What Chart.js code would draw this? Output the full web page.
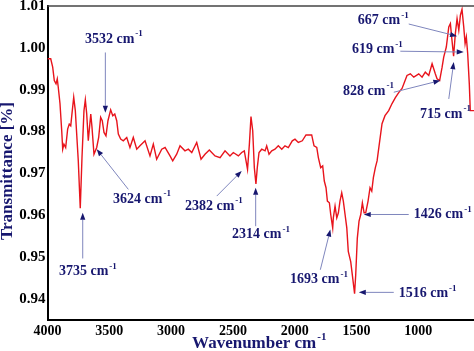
<!DOCTYPE html>
<html>
<head>
<meta charset="utf-8">
<script src="https://cdn.jsdelivr.net/npm/chart.js@4.4.1/dist/chart.umd.min.js"></script>
<style>
  html, body { margin: 0; padding: 0; background: #fff; }
  #wrap { width: 474px; height: 351px; }
</style>
</head>
<body>
<div id="wrap"><canvas id="canvas"></canvas></div>
<script>
// spectrum
var wavenumbers = [4000, 3974, 3958, 3945, 3931, 3921, 3913, 3899, 3885, 3877, 3867, 3853, 3837, 3824, 3812, 3802, 3788, 3775, 3764, 3751,
  3735, 3721, 3705, 3694, 3683, 3670, 3650, 3640, 3624, 3602, 3586, 3570, 3557, 3543, 3527, 3511, 3489, 3472, 3456, 3440,
  3427, 3408, 3387, 3359, 3333, 3306, 3278, 3252, 3211, 3171, 3144, 3117, 3076, 3049, 3009, 2987, 2955, 2928, 2888, 2861,
  2833, 2793, 2758, 2726, 2691, 2645, 2604, 2564, 2524, 2497, 2456, 2429, 2408, 2394, 2382, 2367, 2354, 2340, 2327, 2314,
  2303, 2289, 2267, 2240, 2227, 2208, 2186, 2160, 2133, 2105, 2079, 2052, 2020, 1998, 1971, 1939, 1909, 1863, 1844, 1822,
  1809, 1790, 1774, 1761, 1747, 1736, 1720, 1709, 1693, 1688, 1674, 1660, 1647, 1634, 1620, 1607, 1593, 1579, 1567, 1547,
  1534, 1516, 1507, 1494, 1480, 1466, 1453, 1439, 1426, 1407, 1391, 1377, 1364, 1348, 1334, 1318, 1294, 1270, 1240, 1213,
  1186, 1159, 1132, 1092, 1065, 1037, 997, 970, 944, 916, 889, 863, 849, 828, 808, 795, 774, 754, 741, 728,
  715, 701, 687, 673, 660, 647, 633, 622, 612, 601, 588, 580, 550];
var transmittance = [0.9974, 0.9974, 0.9954, 0.9922, 0.9914, 0.9926, 0.9906, 0.9867, 0.9802, 0.9758, 0.9770, 0.9762, 0.9806, 0.9818, 0.9814, 0.9843, 0.9882, 0.9850, 0.9795, 0.9730,
  0.9617, 0.9738, 0.9850, 0.9876, 0.9843, 0.9778, 0.9842, 0.9810, 0.9746, 0.9762, 0.9786, 0.9834, 0.9826, 0.9798, 0.9790, 0.9826, 0.9852, 0.9838, 0.9842, 0.9826,
  0.9794, 0.9782, 0.9778, 0.9786, 0.9762, 0.9786, 0.9758, 0.9766, 0.9778, 0.9742, 0.9770, 0.9734, 0.9758, 0.9762, 0.9742, 0.9730, 0.9746, 0.9766, 0.9754, 0.9758,
  0.9750, 0.9774, 0.9734, 0.9746, 0.9756, 0.9742, 0.9738, 0.9754, 0.9742, 0.9750, 0.9742, 0.9750, 0.9754, 0.9730, 0.9710, 0.9770, 0.9836, 0.9802, 0.9714, 0.9675,
  0.9714, 0.9750, 0.9758, 0.9754, 0.9766, 0.9746, 0.9754, 0.9758, 0.9766, 0.9758, 0.9766, 0.9762, 0.9778, 0.9782, 0.9774, 0.9778, 0.9792, 0.9792, 0.9766, 0.9762,
  0.9738, 0.9714, 0.9718, 0.9682, 0.9666, 0.9634, 0.9630, 0.9602, 0.9570, 0.9594, 0.9622, 0.9594, 0.9606, 0.9634, 0.9654, 0.9634, 0.9602, 0.9570, 0.9514, 0.9489,
  0.9457, 0.9413, 0.9457, 0.9545, 0.9586, 0.9602, 0.9630, 0.9606, 0.9606, 0.9634, 0.9666, 0.9658, 0.9690, 0.9714, 0.9730, 0.9766, 0.9819, 0.9838, 0.9850, 0.9867,
  0.9881, 0.9893, 0.9903, 0.9934, 0.9938, 0.9930, 0.9938, 0.9930, 0.9942, 0.9934, 0.9962, 0.9938, 0.9926, 0.9922, 0.9954, 0.9978, 1.0002, 1.0050, 1.0058, 1.0018,
  0.9980, 1.0034, 1.0070, 1.0042, 1.0078, 1.0092, 1.0050, 1.0010, 1.0026, 0.9986, 0.9914, 0.9850, 0.9850];

var xTicks = [4000, 3500, 3000, 2500, 2000, 1500, 1000];
var yTicks = [0.94, 0.95, 0.96, 0.97, 0.98, 0.99, 1.00, 1.01];

// marked peaks (cm-1)
var peaks = [3532, 3624, 3735, 2382, 2314, 1693, 1516, 1426, 828, 715, 619, 667];

// where each label and arrow sits, in axis units: [textX, textY, tailX, tailY, tipX, tipY]
var peakLayout = [
  [3697, 1.0021, 3532, 0.9989, 3532, 0.9845],
  [3470, 0.9638, 3346, 0.9662, 3602, 0.9758],
  [3907, 0.9465, 3715, 0.9497, 3715, 0.9606],
  [2888, 0.9622, 2631, 0.9646, 2429, 0.9706],
  [2507, 0.9554, 2316, 0.9574, 2316, 0.9666],
  [2038, 0.9446, 1793, 0.9470, 1712, 0.9566],
  [1159, 0.9413, 1199, 0.9416, 1482, 0.9416],
  [1037, 0.9602, 1078, 0.9602, 1442, 0.9602],
  [1609, 0.9896, 1199, 0.9894, 822, 0.9922],
  [986, 0.9842, 754, 0.9878, 714, 0.9966],
  [1537, 0.9996, 1146, 0.9992, 633, 0.9990],
  [1490, 1.0065, 1078, 1.0057, 687, 1.0028]
];

var navy = '#17176f';

function drawUnitText(ctx, txt, x, y, size, align) {
  // "NNNN cm" with a raised "-1"
  ctx.font = 'bold ' + size + 'px "Liberation Serif", "Times New Roman", serif';
  var w1 = ctx.measureText(txt).width;
  var supSize = Math.round(size * 0.62);
  ctx.font = 'bold ' + supSize + 'px "Liberation Serif", "Times New Roman", serif';
  var w2 = ctx.measureText('-1').width;
  var x0 = x;
  if (align === 'center') x0 = x - (w1 + w2) / 2;
  ctx.textAlign = 'left';
  ctx.textBaseline = 'middle';
  ctx.font = 'bold ' + size + 'px "Liberation Serif", "Times New Roman", serif';
  ctx.fillText(txt, x0, y);
  ctx.font = 'bold ' + supSize + 'px "Liberation Serif", "Times New Roman", serif';
  ctx.fillText('-1', x0 + w1 + 1, y - size * 0.38);
}

var peakPlugin = {
  id: 'peaks',
  afterDatasetsDraw: function(chart) {
    var ctx = chart.ctx;
    var xs = chart.scales.x, ys = chart.scales.y;
    var area = chart.chartArea;
    ctx.save();

    // top frame line
    ctx.strokeStyle = '#444';
    ctx.lineWidth = 1.5;
    ctx.beginPath();
    ctx.moveTo(area.left, area.top);
    ctx.lineTo(area.right, area.top);
    ctx.stroke();

    for (var i = 0; i < peaks.length; i++) {
      var p = peakLayout[i];
      var tx = xs.getPixelForValue(p[0]), ty = ys.getPixelForValue(p[1]);
      var ax = xs.getPixelForValue(p[2]), ay = ys.getPixelForValue(p[3]);
      var bx = xs.getPixelForValue(p[4]), by = ys.getPixelForValue(p[5]);
      var ang = Math.atan2(by - ay, bx - ax);
      var hl = 7, hw = 2.6;
      // shaft
      ctx.strokeStyle = '#7f86bd';
      ctx.lineWidth = 1;
      ctx.beginPath();
      ctx.moveTo(ax, ay);
      ctx.lineTo(bx - Math.cos(ang) * hl, by - Math.sin(ang) * hl);
      ctx.stroke();
      // head
      ctx.fillStyle = navy;
      ctx.beginPath();
      ctx.moveTo(bx, by);
      ctx.lineTo(bx - Math.cos(ang) * hl - Math.sin(ang) * hw, by - Math.sin(ang) * hl + Math.cos(ang) * hw);
      ctx.lineTo(bx - Math.cos(ang) * hl + Math.sin(ang) * hw, by - Math.sin(ang) * hl - Math.cos(ang) * hw);
      ctx.closePath();
      ctx.fill();
      // label
      drawUnitText(ctx, peaks[i] + ' cm', tx, ty, 14, 'left');
    }

    // axis titles
    ctx.fillStyle = navy;
    drawUnitText(ctx, 'Wavenumber cm', (area.left + area.right) / 2 - 2, 344, 17, 'center');
    ctx.translate(8, 171);
    ctx.rotate(-Math.PI / 2);
    ctx.font = 'bold 17px "Liberation Serif", "Times New Roman", serif';
    ctx.textAlign = 'center';
    ctx.textBaseline = 'middle';
    ctx.fillText('Transmittance [%]', 0, 0);
    ctx.restore();
  }
};

var points = wavenumbers.map(function(w, i) { return { x: w, y: transmittance[i] }; });

var fontFamily = '"Liberation Serif", "Times New Roman", serif';

new Chart(document.getElementById('canvas'), {
  type: 'line',
  data: {
    datasets: [{
      data: points,
      borderColor: '#e8141c',
      borderWidth: 1.4,
      pointRadius: 0,
      tension: 0,
      fill: false
    }]
  },
  options: {
    responsive: true,
    maintainAspectRatio: false,
    animation: false,
    events: [],
    layout: { padding: { top: 6, right: 0, left: 0, bottom: 0 } },
    plugins: { legend: { display: false }, tooltip: { enabled: false } },
    scales: {
      x: {
        type: 'linear',
        reverse: true,
        min: 550,
        max: 4000,
        grid: { display: false, drawTicks: false, tickLength: 0 },
        border: { display: true, color: '#000', width: 2 },
        ticks: {
          color: '#000', font: { family: fontFamily, weight: 'bold', size: 14, lineHeight: 1 },
          padding: 4, maxRotation: 0, autoSkip: false,
          callback: function(v) { return String(v); }
        },
        afterBuildTicks: function(scale) {
          scale.ticks = xTicks.map(function(v) { return { value: v }; });
        },
        afterFit: function(scale) {
          scale.height = 31;
          scale.paddingLeft = 0;
          scale.paddingRight = 0;
        }
      },
      y: {
        min: 0.935,
        max: 1.01,
        grid: { display: false, drawTicks: false, tickLength: 0 },
        border: { display: true, color: '#000', width: 2 },
        ticks: {
          color: '#000', font: { family: fontFamily, weight: 'bold', size: 15, lineHeight: 1 },
          padding: 2, autoSkip: false,
          callback: function(v) { return v.toFixed(2); }
        },
        afterBuildTicks: function(scale) {
          scale.ticks = yTicks.map(function(v) { return { value: v }; });
        },
        afterFit: function(scale) {
          scale.width = 47.5;
          scale.paddingTop = 0;
          scale.paddingBottom = 0;
        }
      }
    }
  },
  plugins: [peakPlugin]
});
</script>
</body>
</html>
